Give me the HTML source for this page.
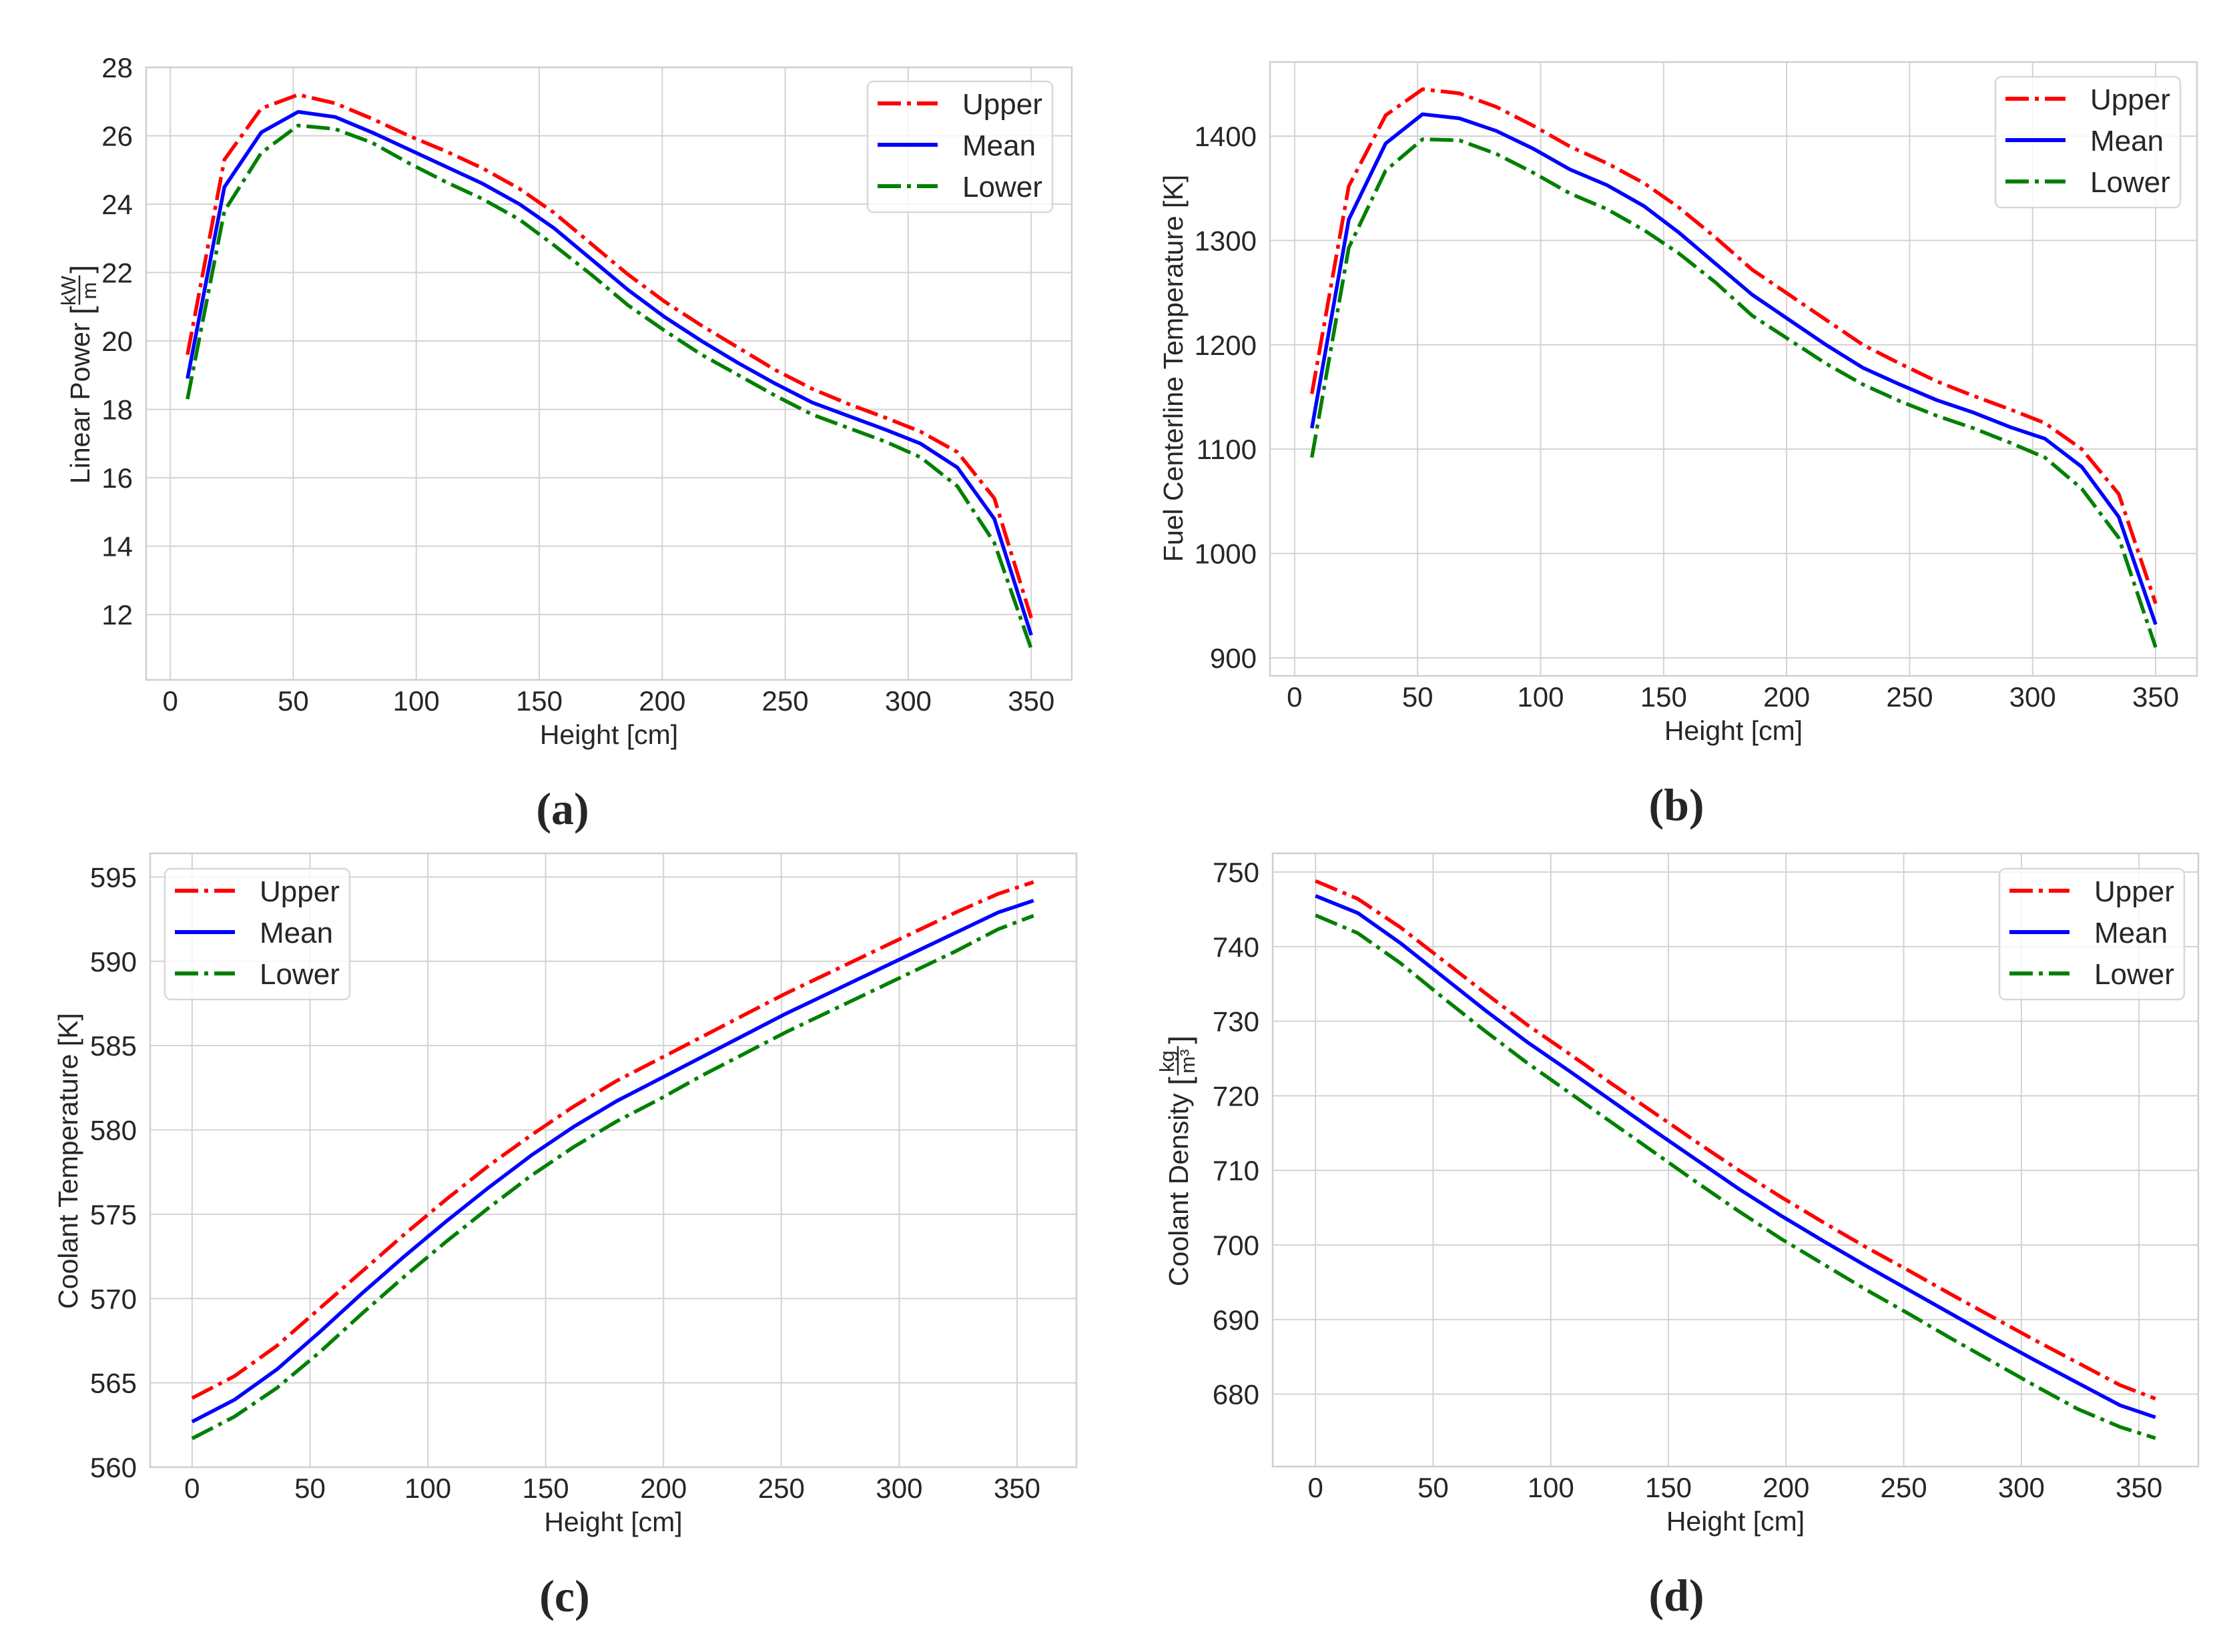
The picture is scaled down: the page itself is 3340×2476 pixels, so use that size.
<!DOCTYPE html>
<html><head><meta charset="utf-8">
<style>
html,body{margin:0;padding:0;background:#fff;}
svg{display:block;}
text{font-family:"Liberation Sans",sans-serif;fill:#262626;}
</style></head>
<body>
<svg id="fig" width="3340" height="2476" viewBox="0 0 3340 2476" xmlns="http://www.w3.org/2000/svg">
<rect width="3340" height="2476" fill="#fff"/>
</svg>
<script>
// ---- data ----
const heightsAB = [7,22,37,52,67,82,97,112,127,142,156,171,186,201,216,231,246,261,276,291,305,320,335,350];
const powerUpper = [19.6,25.3,26.8,27.2,26.95,26.5,26.0,25.55,25.05,24.45,23.75,22.85,21.95,21.15,20.45,19.8,19.15,18.6,18.15,17.75,17.35,16.75,15.4,11.9];
const powerMean = [18.9,24.5,26.1,26.7,26.55,26.1,25.6,25.1,24.6,24.0,23.3,22.4,21.5,20.7,20.0,19.35,18.75,18.2,17.8,17.4,17.0,16.3,14.8,11.4];
const powerLower = [18.3,23.8,25.5,26.3,26.2,25.8,25.2,24.65,24.15,23.55,22.8,21.95,21.05,20.3,19.6,19.0,18.4,17.85,17.45,17.05,16.6,15.75,14.1,11.0];
const fuelUpper = [1153,1352,1420,1445,1441,1428,1410,1390,1374,1355,1332,1303,1272,1248,1224,1200,1182,1165,1151,1138,1125,1100,1057,952];
const fuelMean = [1120,1320,1393,1421,1417,1405,1388,1368,1353,1333,1308,1278,1248,1224,1200,1178,1162,1147,1135,1121,1110,1083,1035,932];
const fuelLower = [1092,1293,1367,1397,1396,1383,1365,1345,1330,1310,1288,1260,1228,1205,1182,1162,1146,1132,1120,1106,1092,1062,1015,910];
const heightsCD = [0,18,36,54,72,90,108,126,144,162,180,198,216,234,252,270,288,306,324,342,357];
const coolTUpper = [564.1,565.4,567.2,569.4,571.6,573.8,575.9,577.9,579.7,581.4,582.9,584.2,585.5,586.8,588.1,589.3,590.5,591.7,592.9,594.0,594.7];
const coolTMean = [562.7,564.0,565.8,568.0,570.3,572.5,574.6,576.6,578.5,580.2,581.7,583.0,584.3,585.6,586.9,588.1,589.3,590.5,591.7,592.9,593.6];
const coolTLower = [561.7,563.0,564.7,566.8,569.1,571.3,573.4,575.4,577.3,579.0,580.5,581.8,583.2,584.5,585.8,587.0,588.2,589.4,590.6,591.9,592.7];
const densUpper = [748.8,746.4,742.6,738.2,733.8,729.5,725.6,721.6,717.7,713.8,710.0,706.4,703.0,699.7,696.6,693.4,690.3,687.2,684.2,681.2,679.4];
const densMean = [746.8,744.5,740.5,736.0,731.5,727.2,723.3,719.3,715.3,711.4,707.5,703.9,700.5,697.2,694.0,690.8,687.6,684.5,681.5,678.5,676.9];
const densLower = [744.2,741.8,737.8,733.2,728.7,724.4,720.4,716.4,712.4,708.4,704.5,700.8,697.4,694.0,690.8,687.5,684.3,681.1,678.0,675.6,674.1];
const xTicks = [0,50,100,150,200,250,300,350];
const yTicksA = [12,14,16,18,20,22,24,26,28];
const yTicksB = [900,1000,1100,1200,1300,1400];
const yTicksC = [560,565,570,575,580,585,590,595];
const yTicksD = [680,690,700,710,720,730,740,750];
const seriesNames = ["Upper","Mean","Lower"];

const NS = "http://www.w3.org/2000/svg";
const svg = document.getElementById('fig');
function mk(tag, attrs, parent){
  const e = document.createElementNS(NS, tag);
  for (const k in attrs) e.setAttribute(k, attrs[k]);
  (parent||svg).appendChild(e);
  return e;
}
const COLORS = ["#ff0000","#0000ff","#008000"];
const DASH = ["35 9 6 9", null, "35 9 6 9"];

function panel(p){
  const g = mk('g', {});
  
  
  const sx = v => p.L + (v - p.xlim[0]) / (p.xlim[1] - p.xlim[0]) * (p.R - p.L);
  const sy = v => p.B - (v - p.ylim[0]) / (p.ylim[1] - p.ylim[0]) * (p.B - p.T);
  for (const t of xTicks){
    const l = mk('line', {x1:sx(t), x2:sx(t), y1:p.T, y2:p.B, stroke:'#d3d3d3', 'stroke-width':2}, g);
    
    
    const tx = mk('text', {x:sx(t), y:p.B+46, 'text-anchor':'middle', 'font-size':42}, g);
    
    
    tx.textContent = t;
  }
  for (const t of p.yticks){
    const l = mk('line', {x1:p.L, x2:p.R, y1:sy(t), y2:sy(t), stroke:'#d3d3d3', 'stroke-width':2}, g);
    
    
    const tx = mk('text', {x:p.L-20, y:sy(t)+15, 'text-anchor':'end', 'font-size':42}, g);
    
    
    tx.textContent = t;
  }
  const frame = mk('rect', {x:p.L, y:p.T, width:p.R-p.L, height:p.B-p.T, fill:'none', stroke:'#cfcfcf', 'stroke-width':2.5}, g);
  
  
  p.series.forEach((arr, i) => {
    const pts = arr.map((v, j) => sx(p.xs[j]).toFixed(1) + ',' + sy(v).toFixed(1)).join(' ');
    const a = {points:pts, fill:'none', stroke:COLORS[i], 'stroke-width':5.5, 'stroke-linejoin':'round'};
    if (DASH[i]) a['stroke-dasharray'] = DASH[i];
    const pl = mk('polyline', a, g);
    
    
  });
  const lg = mk('g', {}, g);
  
  
  mk('rect', {x:p.lgx, y:p.lgy, width:277, height:196, rx:9, fill:'#fff', 'fill-opacity':0.8, stroke:'#d8d8d8', 'stroke-width':2.5}, lg);
  seriesNames.forEach((n, i) => {
    const y = p.lgy + 33 + i*62;
    const a = {x1:p.lgx+15, x2:p.lgx+105, y1:y, y2:y, stroke:COLORS[i], 'stroke-width':6};
    if (DASH[i]) a['stroke-dasharray'] = DASH[i];
    const ln = mk('line', a, lg);
    
    
    const t = mk('text', {x:p.lgx+142, y:y+16, 'font-size':44}, lg);
    
    
    t.textContent = n;
  });
  const xl = mk('text', {x:(p.L+p.R)/2, y:p.B+96, 'text-anchor':'middle', 'font-size':41}, g);
  
  
  xl.textContent = 'Height [cm]';
  const yg = mk('g', {transform:'translate(' + p.ylx + ',' + p.lyc + ') rotate(-90)'}, g);
  
  
  const yt = mk('text', {x:0, y:0, 'font-size':41}, yg);
  yt.textContent = p.ylabel;
  let w = yt.getComputedTextLength();
  let total = w;
  if (p.frac){
    const fx = w + 12;
    const fw = 46;
    const lb = mk('text', {x:fx, y:4, 'font-size':46}, yg); lb.textContent = '[';
    const lbw = lb.getComputedTextLength();
    const num = mk('text', {x:fx+lbw+fw/2, y:-21, 'font-size':31, 'text-anchor':'middle'}, yg); num.textContent = p.frac[0];
    mk('line', {x1:fx+lbw+2, x2:fx+lbw+fw, y1:-15, y2:-15, stroke:'#262626', 'stroke-width':2.5}, yg);
    const den = mk('text', {x:fx+lbw+fw/2, y:10, 'font-size':31, 'text-anchor':'middle'}, yg); den.textContent = p.frac[1];
    const rb = mk('text', {x:fx+lbw+fw+3, y:4, 'font-size':46}, yg); rb.textContent = ']';
    total = fx + lbw + fw + 3 + rb.getComputedTextLength();
  }
  for (const c of yg.children){
    for (const at of ['x','x1','x2']){
      if (c.hasAttribute(at)) c.setAttribute(at, parseFloat(c.getAttribute(at)) - total/2);
    }
  }
  const cap = mk('text', {x:p.capx, y:p.B+216, 'text-anchor':'middle', 'font-size':68, 'font-weight':'bold', style:'font-family:"Liberation Serif",serif'}, g);
  
  
  cap.textContent = '(' + p.id + ')';
}

panel({id:'a', L:219, R:1606, T:101, B:1019, xlim:[-9.8,366.5], ylim:[10.09,28.0], yticks:yTicksA,
  xs:heightsAB, series:[powerUpper,powerMean,powerLower], lgx:1300, lgy:122,
  ylabel:'Linear Power', frac:['kW','m'], ylx:134, lyc:561, capx:843});
panel({id:'b', L:1903, R:3292, T:93, B:1013, xlim:[-10.0,366.8], ylim:[882.7,1471], yticks:yTicksB,
  xs:heightsAB, series:[fuelUpper,fuelMean,fuelLower], lgx:2990, lgy:115,
  ylabel:'Fuel Centerline Temperature [K]', frac:null, ylx:1772, lyc:552, capx:2512});
panel({id:'c', L:225, R:1613, T:1279, B:2199, xlim:[-17.8,375.2], ylim:[560,596.4], yticks:yTicksC,
  xs:heightsCD, series:[coolTUpper,coolTMean,coolTLower], lgx:247, lgy:1302,
  ylabel:'Coolant Temperature [K]', frac:null, ylx:116, lyc:1740, capx:846});
panel({id:'d', L:1907, R:3294, T:1279, B:2198, xlim:[-18.2,375.2], ylim:[670.3,752.5], yticks:yTicksD,
  xs:heightsCD, series:[densUpper,densMean,densLower], lgx:2996, lgy:1302,
  ylabel:'Coolant Density', frac:['kg','m³'], ylx:1780, lyc:1740, capx:2512});
</script>
</body></html>
